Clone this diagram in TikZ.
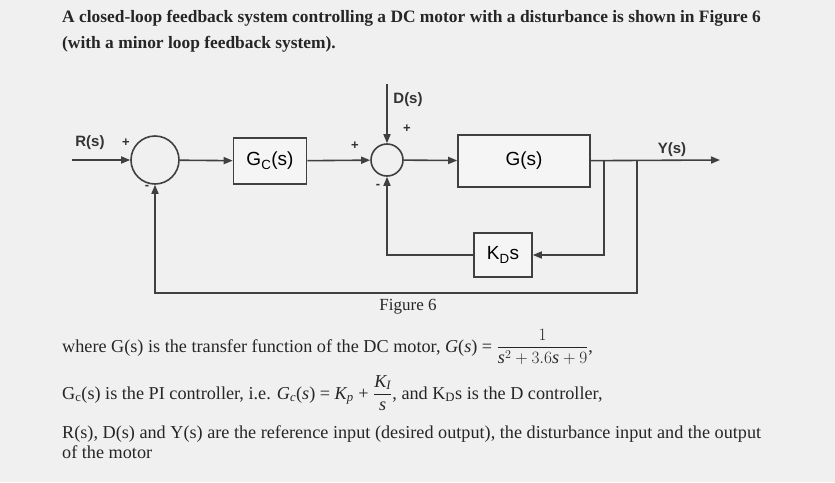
\documentclass[tikz,border=0pt]{standalone}
\usepackage{amsmath}
\usepackage{fontspec}
\setmainfont{Liberation Serif}
\setsansfont{Liberation Sans}
\usetikzlibrary{arrows.meta}
\begin{document}
\begin{tikzpicture}[x=1pt,y=-1pt,
  blk/.style={draw=black!75,line width=1.6pt,fill=black!4,minimum width=#1,minimum height=46pt,font=\sffamily\fontsize{19}{19}\selectfont},
  sum/.style={draw=black!75,line width=1.6pt,circle,inner sep=0pt,minimum size=#1},
  sig/.style={draw=black!75,line width=1.6pt,-{Triangle[length=9pt,width=7pt]}},
  lab/.style={font=\sffamily\bfseries\fontsize{15}{15}\selectfont,text=black!80},
  pm/.style={font=\sffamily\bfseries\fontsize{13}{13}\selectfont,text=black!80},
  txt/.style={anchor=base west,font=\fontsize{18.2}{19}\selectfont,text=black!85,inner sep=0pt}]
\fill[black!6] (0,0) rectangle (835,482);
\useasboundingbox (0,0) rectangle (835,482);
% header text
\node[txt,font=\fontsize{17.4}{19}\selectfont] (t1) at (62,22) {\bfseries A closed-loop feedback system controlling a DC motor with a disturbance is shown in Figure 6};
\node[txt,font=\fontsize{17.4}{19}\selectfont] (t2) at (62,48) {\bfseries (with a minor loop feedback system).};
% diagram
\coordinate (rin) at (72,160);
\node[sum=48pt] (s1) at (155,160) {};
\node[blk=73pt] (gc) at (270,161) {G\textsubscript{C}(s)};
\node[sum=32pt] (s2) at (387,160) {};
\coordinate (dtop) at (387,84);
\node[blk=132pt,minimum height=52pt] (g) at (524,161) {G(s)};
\coordinate (yout) at (720,160);
\node[blk=58pt,minimum height=44pt] (kd) at (503,255) {K\textsubscript{D}s};
\coordinate (b1) at (604,160);
\coordinate (b2) at (637,160);
\draw[sig] (rin) -- (s1);
\draw[sig] (s1) -- (gc);
\draw[sig] (gc) -- (s2);
\draw[sig] (dtop) -- (s2);
\draw[sig] (s2) -- (g);
\draw[sig] (g) -- (yout);
\draw[sig] (b1) |- (kd);
\draw[sig] (kd) -| (s2);
\draw[sig] (b2) |- (155,293) -- (s1);
\node[lab] (rl) at (90,143) {R(s)};
\node[pm] (p1) at (126,143) {+};
\node[pm] (m1) at (147,187) {-};
\node[lab] (dl) at (408,100) {D(s)};
\node[pm] (p2) at (407,129) {+};
\node[pm] (p3) at (355,146) {+};
\node[pm] (m2) at (378,186) {-};
\node[lab] (yl) at (672,150) {Y(s)};
\node[font=\fontsize{17}{17}\selectfont,text=black!85] (fig) at (408,307) {Figure 6};
% body text
\node[txt] (l1) at (62,352) {where G(s) is the transfer function of the DC motor, \itshape G\upshape(\itshape s\upshape) = $\dfrac{1}{\mathit{s}^2+3.6\mathit{s}+9}$,};
\node[txt] (l2) at (62,399) {G\textsubscript{c}(s) is the PI controller, i.e. \itshape G\textsubscript{c}\upshape(\itshape s\upshape) = \itshape K\textsubscript{p}\upshape{} + $\dfrac{\mathit{K_I}}{\mathit{s}}$, and K\textsubscript{D}s is the D controller,};
\node[txt] (l3) at (62,438) {R(s), D(s) and Y(s) are the reference input (desired output), the disturbance input and the output};
\node[txt] (l4) at (62,458) {of the motor};
\end{tikzpicture}
\end{document}
